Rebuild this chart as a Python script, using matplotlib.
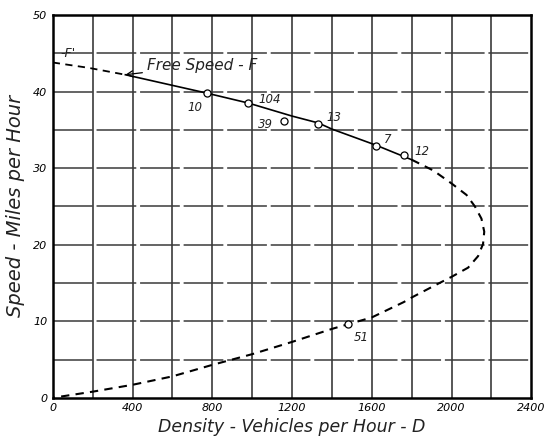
import numpy as np
import matplotlib
matplotlib.use('Agg')
import matplotlib.pyplot as plt

# observed points (density, speed) and their run numbers
obs_labels = ['10', '104', '39', '13', '7', '12', '51']
obs_density = [772, 981, 1162, 1332, 1621, 1764, 1480]
obs_speed = [39.8, 38.5, 36.1, 35.8, 32.9, 31.75, 9.6]

# solid part of the curve
solid_density = [364, 772, 981, 1200, 1332, 1400, 1621, 1800]
solid_speed = [42.2, 39.8, 38.5, 36.8, 35.9, 35.1, 33.0, 31.1]

# dashed part near free speed
free_density = [0, 180, 364]
free_speed = [43.8, 43.1, 42.2]

dash_density = [1800, 1908, 2000, 2075, 2117, 2150, 2164, 2158, 2133, 2083,
                2000, 1925, 1800, 1760, 1600, 1480, 1400, 1200, 1000, 800,
                600, 400, 200, 0]
dash_speed = [31.1, 29.7, 28.0, 26.5, 25.0, 23.4, 21.7, 20.1, 18.5, 17.0,
              15.8, 14.8, 13.1, 12.5, 10.5, 9.6, 9.0, 7.3, 5.7, 4.3,
              2.8, 1.7, 0.8, 0.0]

x_ticks = [0, 400, 800, 1200, 1600, 2000, 2400]
y_ticks = [0, 10, 20, 30, 40, 50]

plt.rcParams['font.family'] = ['DejaVu Sans']

fig = plt.figure(figsize=(5.5, 4.42), dpi=100)
ax = fig.add_axes([0.096, 0.1, 0.87, 0.866])

# grid: solid verticals, broken horizontals
for gx in np.arange(200, 2400, 200):
    ax.axvline(gx, color='#2a2a2a', lw=1.1, zorder=1)
for gy in np.arange(5, 50, 5):
    ax.axhline(gy, color='#3a3a3a', lw=1.1, dashes=(26, 2.5), zorder=1)

ax.plot(free_density, free_speed, color='black', lw=1.3, dashes=(4, 3))
ax.plot(dash_density, dash_speed, color='black', lw=1.5, dashes=(4, 3))
ax.plot(solid_density, solid_speed, color='black', lw=1.2)
ax.scatter(obs_density, obs_speed, s=26, facecolors='white',
           edgecolors='black', linewidths=0.9, zorder=5)

offsets = {'10': (-14, -13), '104': (7, 0), '39': (-19, -5), '13': (6, 2),
           '7': (6, 2), '12': (7, 0), '51': (4, -12)}
for lab, dx, dy in zip(obs_labels, obs_density, obs_speed):
    ax.annotate(lab, (dx, dy), xytext=offsets[lab], textcoords='offset points',
                fontsize=8.5, style='italic', color='#222222')

ax.text(40, 45, "-F'", fontsize=9, style='italic', va='center', ha='left',
        color='#222222')
ax.annotate('Free Speed - F', xy=(364, 42.2), xytext=(470, 43.4),
            fontsize=11, style='italic', va='center', ha='left', color='#222222',
            arrowprops=dict(arrowstyle='->', color='black', lw=0.9,
                            shrinkA=1, shrinkB=0))

ax.set_xlim(0, 2400)
ax.set_ylim(0, 50)
ax.set_xticks(x_ticks)
ax.set_yticks(y_ticks)
ax.set_xticklabels([str(v) for v in x_ticks], style='italic', fontsize=8)
ax.set_yticklabels([str(v) for v in y_ticks], style='italic', fontsize=8)
ax.tick_params(length=0, pad=4)
for sp in ax.spines.values():
    sp.set_linewidth(1.8)

ax.set_xlabel('Density - Vehicles per Hour - D', style='italic', fontsize=12.5,
              labelpad=3, color='#222222')
ax.set_ylabel('Speed - Miles per Hour', style='italic', fontsize=14,
              labelpad=6, color='#222222')

fig.savefig('out.png', dpi=100)
